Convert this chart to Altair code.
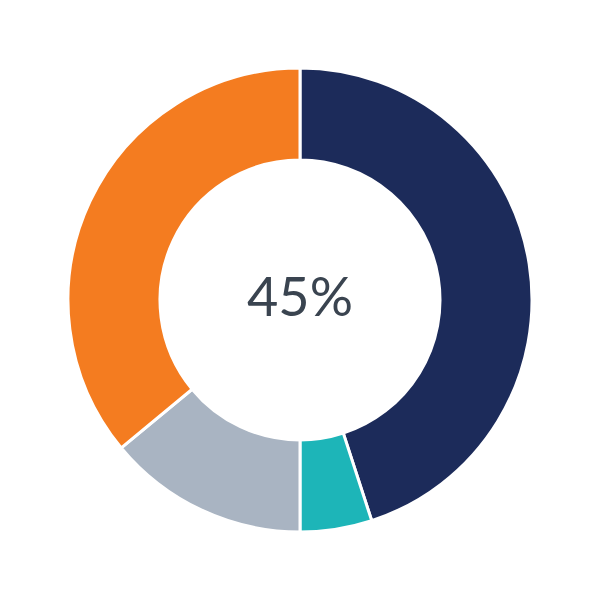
import altair as alt
import pandas as pd

categories = ["A", "B", "C", "D"]
values = [45, 5, 14, 36]
colors = ["#1c2b5a", "#1db5b8", "#a9b4c2", "#f47c20"]
center_label = ["45%"]

df = pd.DataFrame({"cat": categories, "val": values, "ord": list(range(len(categories)))})

arcs = alt.Chart(df).mark_arc(innerRadius=140, outerRadius=232, stroke="white", strokeWidth=3).encode(
    theta=alt.Theta("val:Q", stack=True),
    color=alt.Color("cat:N", scale=alt.Scale(domain=categories, range=colors), legend=None),
    order=alt.Order("ord:Q"),
)

text = alt.Chart(pd.DataFrame({"t": center_label})).mark_text(
    font="Lato", fontSize=54, color="#3a4450", baseline="middle", align="center"
).encode(text="t:N")

chart = alt.layer(arcs, text).properties(
    width=584, height=584,
    autosize=alt.AutoSizeParams(type="fit", contains="padding"),
    padding=0,
).configure_view(stroke=None)

chart.save("out.html", embed_options={"renderer": "svg", "actions": False})
